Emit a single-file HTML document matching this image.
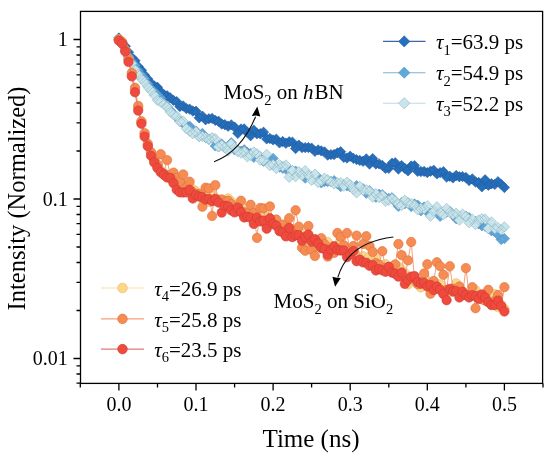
<!DOCTYPE html>
<html><head><meta charset="utf-8"><style>
html,body{margin:0;padding:0;background:#fff;}
svg{display:block;will-change:transform;}
text{font-family:"Liberation Serif",serif;fill:#000;font-size:20px;}
.lg{font-size:21px;}
.an{font-size:21px;}
.ti{font-size:25px;}
.yt{font-size:24.5px;}
</style></head><body>
<svg width="550" height="457" viewBox="0 0 550 457">
<rect width="550" height="457" fill="#fff"/>
<polyline points="118.9,38.0 122.1,42.1 125.3,46.3 128.5,52.2 131.8,57.5 135.0,60.7 138.2,66.6 141.4,70.3 144.6,75.2 147.8,79.1 151.0,83.4 154.2,85.9 157.4,87.3 160.7,91.8 163.9,94.6 167.1,95.8 170.3,97.9 173.5,100.4 176.7,101.6 179.9,106.5 183.2,106.0 186.4,108.6 189.6,109.1 192.8,111.0 196.0,111.2 199.2,117.8 202.4,116.1 205.6,119.8 208.9,118.8 212.1,118.4 215.3,120.4 218.5,121.3 221.7,124.0 224.9,124.7 228.1,126.2 231.3,124.9 234.6,127.1 237.8,133.3 241.0,129.0 244.2,128.9 247.4,132.6 250.6,135.7 253.8,130.2 257.0,133.7 260.2,133.7 263.5,132.2 266.7,138.9 269.9,138.5 273.1,139.9 276.3,139.2 279.5,142.9 282.7,141.5 285.9,143.2 289.2,141.8 292.4,142.2 295.6,148.5 298.8,145.1 302.0,147.6 305.2,147.6 308.4,147.5 311.6,148.1 314.9,151.3 318.1,149.9 321.3,150.9 324.5,151.9 327.7,155.1 330.9,154.6 334.1,154.5 337.4,152.9 340.6,151.7 343.8,157.4 347.0,158.0 350.2,156.2 353.4,158.4 356.6,159.6 359.8,160.4 363.1,161.3 366.3,158.9 369.5,164.0 372.7,158.6 375.9,164.0 379.1,163.9 382.3,165.4 385.5,168.4 388.8,168.3 392.0,163.2 395.2,162.8 398.4,169.0 401.6,165.6 404.8,168.4 408.0,170.9 411.2,166.0 414.5,165.6 417.7,171.4 420.9,171.5 424.1,171.4 427.3,172.6 430.5,171.2 433.7,170.3 436.9,173.9 440.1,172.6 443.4,171.7 446.6,177.0 449.8,176.3 453.0,177.9 456.2,175.5 459.4,176.8 462.6,176.6 465.9,177.5 469.1,180.5 472.3,178.9 475.5,182.0 478.7,182.5 481.9,186.8 485.1,179.8 488.3,185.3 491.5,183.7 494.8,184.4 498.0,181.7 501.2,184.4 504.4,187.5" fill="none" stroke="#3b67a6" stroke-width="1"/><path d="M118.9 32.8L124.1 38.0L118.9 43.2L113.7 38.0ZM122.1 36.9L127.3 42.1L122.1 47.3L116.9 42.1ZM125.3 41.1L130.5 46.3L125.3 51.5L120.1 46.3ZM128.5 47.0L133.7 52.2L128.5 57.4L123.3 52.2ZM131.8 52.3L136.9 57.5L131.8 62.7L126.5 57.5ZM135.0 55.5L140.2 60.7L135.0 65.9L129.8 60.7ZM138.2 61.4L143.4 66.6L138.2 71.8L133.0 66.6ZM141.4 65.1L146.6 70.3L141.4 75.5L136.2 70.3ZM144.6 70.0L149.8 75.2L144.6 80.4L139.4 75.2ZM147.8 73.9L153.0 79.1L147.8 84.3L142.6 79.1ZM151.0 78.2L156.2 83.4L151.0 88.6L145.8 83.4ZM154.2 80.7L159.4 85.9L154.2 91.1L149.0 85.9ZM157.4 82.1L162.6 87.3L157.4 92.5L152.2 87.3ZM160.7 86.6L165.9 91.8L160.7 97.0L155.5 91.8ZM163.9 89.4L169.1 94.6L163.9 99.8L158.7 94.6ZM167.1 90.6L172.3 95.8L167.1 101.0L161.9 95.8ZM170.3 92.7L175.5 97.9L170.3 103.1L165.1 97.9ZM173.5 95.2L178.7 100.4L173.5 105.6L168.3 100.4ZM176.7 96.4L181.9 101.6L176.7 106.8L171.5 101.6ZM179.9 101.3L185.1 106.5L179.9 111.7L174.7 106.5ZM183.2 100.8L188.3 106.0L183.2 111.2L178.0 106.0ZM186.4 103.4L191.6 108.6L186.4 113.8L181.2 108.6ZM189.6 103.9L194.8 109.1L189.6 114.3L184.4 109.1ZM192.8 105.8L198.0 111.0L192.8 116.2L187.6 111.0ZM196.0 106.0L201.2 111.2L196.0 116.4L190.8 111.2ZM199.2 112.6L204.4 117.8L199.2 123.0L194.0 117.8ZM202.4 110.9L207.6 116.1L202.4 121.3L197.2 116.1ZM205.6 114.6L210.8 119.8L205.6 125.0L200.4 119.8ZM208.9 113.6L214.1 118.8L208.9 124.0L203.7 118.8ZM212.1 113.2L217.3 118.4L212.1 123.6L206.9 118.4ZM215.3 115.2L220.5 120.4L215.3 125.6L210.1 120.4ZM218.5 116.1L223.7 121.3L218.5 126.5L213.3 121.3ZM221.7 118.8L226.9 124.0L221.7 129.2L216.5 124.0ZM224.9 119.5L230.1 124.7L224.9 129.9L219.7 124.7ZM228.1 121.0L233.3 126.2L228.1 131.4L222.9 126.2ZM231.3 119.7L236.5 124.9L231.3 130.1L226.1 124.9ZM234.6 121.9L239.8 127.1L234.6 132.3L229.4 127.1ZM237.8 128.1L243.0 133.3L237.8 138.5L232.6 133.3ZM241.0 123.8L246.2 129.0L241.0 134.2L235.8 129.0ZM244.2 123.7L249.4 128.9L244.2 134.1L239.0 128.9ZM247.4 127.4L252.6 132.6L247.4 137.8L242.2 132.6ZM250.6 130.5L255.8 135.7L250.6 140.9L245.4 135.7ZM253.8 125.0L259.0 130.2L253.8 135.4L248.6 130.2ZM257.0 128.5L262.2 133.7L257.0 138.9L251.8 133.7ZM260.2 128.5L265.4 133.7L260.2 138.9L255.1 133.7ZM263.5 127.0L268.7 132.2L263.5 137.4L258.3 132.2ZM266.7 133.7L271.9 138.9L266.7 144.1L261.5 138.9ZM269.9 133.3L275.1 138.5L269.9 143.7L264.7 138.5ZM273.1 134.7L278.3 139.9L273.1 145.1L267.9 139.9ZM276.3 134.0L281.5 139.2L276.3 144.4L271.1 139.2ZM279.5 137.7L284.7 142.9L279.5 148.1L274.3 142.9ZM282.7 136.3L287.9 141.5L282.7 146.7L277.5 141.5ZM285.9 138.0L291.1 143.2L285.9 148.4L280.8 143.2ZM289.2 136.6L294.4 141.8L289.2 147.0L284.0 141.8ZM292.4 137.0L297.6 142.2L292.4 147.4L287.2 142.2ZM295.6 143.3L300.8 148.5L295.6 153.7L290.4 148.5ZM298.8 139.9L304.0 145.1L298.8 150.3L293.6 145.1ZM302.0 142.4L307.2 147.6L302.0 152.8L296.8 147.6ZM305.2 142.4L310.4 147.6L305.2 152.8L300.0 147.6ZM308.4 142.3L313.6 147.5L308.4 152.7L303.2 147.5ZM311.6 142.9L316.8 148.1L311.6 153.3L306.4 148.1ZM314.9 146.1L320.1 151.3L314.9 156.5L309.7 151.3ZM318.1 144.7L323.3 149.9L318.1 155.1L312.9 149.9ZM321.3 145.7L326.5 150.9L321.3 156.1L316.1 150.9ZM324.5 146.7L329.7 151.9L324.5 157.1L319.3 151.9ZM327.7 149.9L332.9 155.1L327.7 160.3L322.5 155.1ZM330.9 149.4L336.1 154.6L330.9 159.8L325.7 154.6ZM334.1 149.3L339.3 154.5L334.1 159.7L328.9 154.5ZM337.4 147.7L342.6 152.9L337.4 158.1L332.2 152.9ZM340.6 146.5L345.8 151.7L340.6 156.9L335.4 151.7ZM343.8 152.2L349.0 157.4L343.8 162.6L338.6 157.4ZM347.0 152.8L352.2 158.0L347.0 163.2L341.8 158.0ZM350.2 151.0L355.4 156.2L350.2 161.4L345.0 156.2ZM353.4 153.2L358.6 158.4L353.4 163.6L348.2 158.4ZM356.6 154.4L361.8 159.6L356.6 164.8L351.4 159.6ZM359.8 155.2L365.0 160.4L359.8 165.6L354.6 160.4ZM363.1 156.1L368.2 161.3L363.1 166.5L357.9 161.3ZM366.3 153.7L371.5 158.9L366.3 164.1L361.1 158.9ZM369.5 158.8L374.7 164.0L369.5 169.2L364.3 164.0ZM372.7 153.4L377.9 158.6L372.7 163.8L367.5 158.6ZM375.9 158.8L381.1 164.0L375.9 169.2L370.7 164.0ZM379.1 158.7L384.3 163.9L379.1 169.1L373.9 163.9ZM382.3 160.2L387.5 165.4L382.3 170.6L377.1 165.4ZM385.5 163.2L390.7 168.4L385.5 173.6L380.3 168.4ZM388.8 163.1L393.9 168.3L388.8 173.5L383.6 168.3ZM392.0 158.0L397.2 163.2L392.0 168.4L386.8 163.2ZM395.2 157.6L400.4 162.8L395.2 168.0L390.0 162.8ZM398.4 163.8L403.6 169.0L398.4 174.2L393.2 169.0ZM401.6 160.4L406.8 165.6L401.6 170.8L396.4 165.6ZM404.8 163.2L410.0 168.4L404.8 173.6L399.6 168.4ZM408.0 165.7L413.2 170.9L408.0 176.1L402.8 170.9ZM411.2 160.8L416.4 166.0L411.2 171.2L406.0 166.0ZM414.5 160.4L419.7 165.6L414.5 170.8L409.3 165.6ZM417.7 166.2L422.9 171.4L417.7 176.6L412.5 171.4ZM420.9 166.3L426.1 171.5L420.9 176.7L415.7 171.5ZM424.1 166.2L429.3 171.4L424.1 176.6L418.9 171.4ZM427.3 167.4L432.5 172.6L427.3 177.8L422.1 172.6ZM430.5 166.0L435.7 171.2L430.5 176.4L425.3 171.2ZM433.7 165.1L438.9 170.3L433.7 175.5L428.5 170.3ZM436.9 168.7L442.1 173.9L436.9 179.1L431.7 173.9ZM440.1 167.4L445.3 172.6L440.1 177.8L434.9 172.6ZM443.4 166.5L448.6 171.7L443.4 176.9L438.2 171.7ZM446.6 171.8L451.8 177.0L446.6 182.2L441.4 177.0ZM449.8 171.1L455.0 176.3L449.8 181.5L444.6 176.3ZM453.0 172.7L458.2 177.9L453.0 183.1L447.8 177.9ZM456.2 170.3L461.4 175.5L456.2 180.7L451.0 175.5ZM459.4 171.6L464.6 176.8L459.4 182.0L454.2 176.8ZM462.6 171.4L467.8 176.6L462.6 181.8L457.4 176.6ZM465.9 172.3L471.1 177.5L465.9 182.7L460.7 177.5ZM469.1 175.3L474.3 180.5L469.1 185.7L463.9 180.5ZM472.3 173.7L477.5 178.9L472.3 184.1L467.1 178.9ZM475.5 176.8L480.7 182.0L475.5 187.2L470.3 182.0ZM478.7 177.3L483.9 182.5L478.7 187.7L473.5 182.5ZM481.9 181.6L487.1 186.8L481.9 192.0L476.7 186.8ZM485.1 174.6L490.3 179.8L485.1 185.0L479.9 179.8ZM488.3 180.1L493.5 185.3L488.3 190.5L483.1 185.3ZM491.5 178.5L496.7 183.7L491.5 188.9L486.3 183.7ZM494.8 179.2L500.0 184.4L494.8 189.6L489.6 184.4ZM498.0 176.5L503.2 181.7L498.0 186.9L492.8 181.7ZM501.2 179.2L506.4 184.4L501.2 189.6L496.0 184.4ZM504.4 182.3L509.6 187.5L504.4 192.7L499.2 187.5Z" fill="#2270bf" stroke="#2a5c9c" stroke-width="0.6"/><polyline points="118.9,39.4 122.1,44.0 125.3,49.6 128.5,56.3 131.8,61.4 135.0,65.5 138.2,70.8 141.4,75.0 144.6,78.8 147.8,83.9 151.0,88.7 154.2,91.8 157.4,94.6 160.7,98.3 163.9,103.7 167.1,106.6 170.3,110.3 173.5,113.8 176.7,117.4 179.9,121.2 183.2,123.6 186.4,125.7 189.6,126.1 192.8,131.0 196.0,131.0 199.2,136.4 202.4,133.4 205.6,137.5 208.9,139.3 212.1,138.1 215.3,145.9 218.5,146.8 221.7,144.0 224.9,147.8 228.1,148.1 231.3,142.8 234.6,149.8 237.8,150.1 241.0,151.3 244.2,149.8 247.4,152.4 250.6,153.5 253.8,157.3 257.0,156.4 260.2,156.8 263.5,161.2 266.7,158.2 269.9,159.9 273.1,158.4 276.3,166.9 279.5,167.0 282.7,168.3 285.9,169.1 289.2,169.3 292.4,170.8 295.6,171.1 298.8,172.4 302.0,174.0 305.2,178.1 308.4,177.1 311.6,176.7 314.9,176.5 318.1,177.3 321.3,182.9 324.5,181.5 327.7,181.5 330.9,181.5 334.1,180.7 337.4,183.7 340.6,186.6 343.8,184.7 347.0,185.9 350.2,186.8 353.4,188.3 356.6,185.6 359.8,189.2 363.1,188.7 366.3,193.2 369.5,190.6 372.7,194.3 375.9,197.2 379.1,194.3 382.3,194.7 385.5,197.6 388.8,198.5 392.0,197.7 395.2,202.0 398.4,206.4 401.6,202.6 404.8,203.7 408.0,202.8 411.2,206.5 414.5,204.0 417.7,205.1 420.9,210.8 424.1,207.0 427.3,211.9 430.5,213.5 433.7,211.5 436.9,212.8 440.1,216.3 443.4,212.4 446.6,212.2 449.8,211.3 453.0,215.0 456.2,218.7 459.4,218.4 462.6,215.2 465.9,216.2 469.1,217.7 472.3,220.8 475.5,221.4 478.7,223.9 481.9,225.7 485.1,226.2 488.3,228.4 491.5,230.7 494.8,231.8 498.0,234.8 501.2,239.5 504.4,238.6" fill="none" stroke="#7fb0d6" stroke-width="1"/><path d="M118.9 34.2L124.1 39.4L118.9 44.6L113.7 39.4ZM122.1 38.8L127.3 44.0L122.1 49.2L116.9 44.0ZM125.3 44.4L130.5 49.6L125.3 54.8L120.1 49.6ZM128.5 51.1L133.7 56.3L128.5 61.5L123.3 56.3ZM131.8 56.2L136.9 61.4L131.8 66.6L126.5 61.4ZM135.0 60.3L140.2 65.5L135.0 70.7L129.8 65.5ZM138.2 65.6L143.4 70.8L138.2 76.0L133.0 70.8ZM141.4 69.8L146.6 75.0L141.4 80.2L136.2 75.0ZM144.6 73.6L149.8 78.8L144.6 84.0L139.4 78.8ZM147.8 78.7L153.0 83.9L147.8 89.1L142.6 83.9ZM151.0 83.5L156.2 88.7L151.0 93.9L145.8 88.7ZM154.2 86.6L159.4 91.8L154.2 97.0L149.0 91.8ZM157.4 89.4L162.6 94.6L157.4 99.8L152.2 94.6ZM160.7 93.1L165.9 98.3L160.7 103.5L155.5 98.3ZM163.9 98.5L169.1 103.7L163.9 108.9L158.7 103.7ZM167.1 101.4L172.3 106.6L167.1 111.8L161.9 106.6ZM170.3 105.1L175.5 110.3L170.3 115.5L165.1 110.3ZM173.5 108.6L178.7 113.8L173.5 119.0L168.3 113.8ZM176.7 112.2L181.9 117.4L176.7 122.6L171.5 117.4ZM179.9 116.0L185.1 121.2L179.9 126.4L174.7 121.2ZM183.2 118.4L188.3 123.6L183.2 128.8L178.0 123.6ZM186.4 120.5L191.6 125.7L186.4 130.9L181.2 125.7ZM189.6 120.9L194.8 126.1L189.6 131.3L184.4 126.1ZM192.8 125.8L198.0 131.0L192.8 136.2L187.6 131.0ZM196.0 125.8L201.2 131.0L196.0 136.2L190.8 131.0ZM199.2 131.2L204.4 136.4L199.2 141.6L194.0 136.4ZM202.4 128.2L207.6 133.4L202.4 138.6L197.2 133.4ZM205.6 132.3L210.8 137.5L205.6 142.7L200.4 137.5ZM208.9 134.1L214.1 139.3L208.9 144.5L203.7 139.3ZM212.1 132.9L217.3 138.1L212.1 143.3L206.9 138.1ZM215.3 140.7L220.5 145.9L215.3 151.1L210.1 145.9ZM218.5 141.6L223.7 146.8L218.5 152.0L213.3 146.8ZM221.7 138.8L226.9 144.0L221.7 149.2L216.5 144.0ZM224.9 142.6L230.1 147.8L224.9 153.0L219.7 147.8ZM228.1 142.9L233.3 148.1L228.1 153.3L222.9 148.1ZM231.3 137.6L236.5 142.8L231.3 148.0L226.1 142.8ZM234.6 144.6L239.8 149.8L234.6 155.0L229.4 149.8ZM237.8 144.9L243.0 150.1L237.8 155.3L232.6 150.1ZM241.0 146.1L246.2 151.3L241.0 156.5L235.8 151.3ZM244.2 144.6L249.4 149.8L244.2 155.0L239.0 149.8ZM247.4 147.2L252.6 152.4L247.4 157.6L242.2 152.4ZM250.6 148.3L255.8 153.5L250.6 158.7L245.4 153.5ZM253.8 152.1L259.0 157.3L253.8 162.5L248.6 157.3ZM257.0 151.2L262.2 156.4L257.0 161.6L251.8 156.4ZM260.2 151.6L265.4 156.8L260.2 162.0L255.1 156.8ZM263.5 156.0L268.7 161.2L263.5 166.4L258.3 161.2ZM266.7 153.0L271.9 158.2L266.7 163.4L261.5 158.2ZM269.9 154.7L275.1 159.9L269.9 165.1L264.7 159.9ZM273.1 153.2L278.3 158.4L273.1 163.6L267.9 158.4ZM276.3 161.7L281.5 166.9L276.3 172.1L271.1 166.9ZM279.5 161.8L284.7 167.0L279.5 172.2L274.3 167.0ZM282.7 163.1L287.9 168.3L282.7 173.5L277.5 168.3ZM285.9 163.9L291.1 169.1L285.9 174.3L280.8 169.1ZM289.2 164.1L294.4 169.3L289.2 174.5L284.0 169.3ZM292.4 165.6L297.6 170.8L292.4 176.0L287.2 170.8ZM295.6 165.9L300.8 171.1L295.6 176.3L290.4 171.1ZM298.8 167.2L304.0 172.4L298.8 177.6L293.6 172.4ZM302.0 168.8L307.2 174.0L302.0 179.2L296.8 174.0ZM305.2 172.9L310.4 178.1L305.2 183.3L300.0 178.1ZM308.4 171.9L313.6 177.1L308.4 182.3L303.2 177.1ZM311.6 171.5L316.8 176.7L311.6 181.9L306.4 176.7ZM314.9 171.3L320.1 176.5L314.9 181.7L309.7 176.5ZM318.1 172.1L323.3 177.3L318.1 182.5L312.9 177.3ZM321.3 177.7L326.5 182.9L321.3 188.1L316.1 182.9ZM324.5 176.3L329.7 181.5L324.5 186.7L319.3 181.5ZM327.7 176.3L332.9 181.5L327.7 186.7L322.5 181.5ZM330.9 176.3L336.1 181.5L330.9 186.7L325.7 181.5ZM334.1 175.5L339.3 180.7L334.1 185.9L328.9 180.7ZM337.4 178.5L342.6 183.7L337.4 188.9L332.2 183.7ZM340.6 181.4L345.8 186.6L340.6 191.8L335.4 186.6ZM343.8 179.5L349.0 184.7L343.8 189.9L338.6 184.7ZM347.0 180.7L352.2 185.9L347.0 191.1L341.8 185.9ZM350.2 181.6L355.4 186.8L350.2 192.0L345.0 186.8ZM353.4 183.1L358.6 188.3L353.4 193.5L348.2 188.3ZM356.6 180.4L361.8 185.6L356.6 190.8L351.4 185.6ZM359.8 184.0L365.0 189.2L359.8 194.4L354.6 189.2ZM363.1 183.5L368.2 188.7L363.1 193.9L357.9 188.7ZM366.3 188.0L371.5 193.2L366.3 198.4L361.1 193.2ZM369.5 185.4L374.7 190.6L369.5 195.8L364.3 190.6ZM372.7 189.1L377.9 194.3L372.7 199.5L367.5 194.3ZM375.9 192.0L381.1 197.2L375.9 202.4L370.7 197.2ZM379.1 189.1L384.3 194.3L379.1 199.5L373.9 194.3ZM382.3 189.5L387.5 194.7L382.3 199.9L377.1 194.7ZM385.5 192.4L390.7 197.6L385.5 202.8L380.3 197.6ZM388.8 193.3L393.9 198.5L388.8 203.7L383.6 198.5ZM392.0 192.5L397.2 197.7L392.0 202.9L386.8 197.7ZM395.2 196.8L400.4 202.0L395.2 207.2L390.0 202.0ZM398.4 201.2L403.6 206.4L398.4 211.6L393.2 206.4ZM401.6 197.4L406.8 202.6L401.6 207.8L396.4 202.6ZM404.8 198.5L410.0 203.7L404.8 208.9L399.6 203.7ZM408.0 197.6L413.2 202.8L408.0 208.0L402.8 202.8ZM411.2 201.3L416.4 206.5L411.2 211.7L406.0 206.5ZM414.5 198.8L419.7 204.0L414.5 209.2L409.3 204.0ZM417.7 199.9L422.9 205.1L417.7 210.3L412.5 205.1ZM420.9 205.6L426.1 210.8L420.9 216.0L415.7 210.8ZM424.1 201.8L429.3 207.0L424.1 212.2L418.9 207.0ZM427.3 206.7L432.5 211.9L427.3 217.1L422.1 211.9ZM430.5 208.3L435.7 213.5L430.5 218.7L425.3 213.5ZM433.7 206.3L438.9 211.5L433.7 216.7L428.5 211.5ZM436.9 207.6L442.1 212.8L436.9 218.0L431.7 212.8ZM440.1 211.1L445.3 216.3L440.1 221.5L434.9 216.3ZM443.4 207.2L448.6 212.4L443.4 217.6L438.2 212.4ZM446.6 207.0L451.8 212.2L446.6 217.4L441.4 212.2ZM449.8 206.1L455.0 211.3L449.8 216.5L444.6 211.3ZM453.0 209.8L458.2 215.0L453.0 220.2L447.8 215.0ZM456.2 213.5L461.4 218.7L456.2 223.9L451.0 218.7ZM459.4 213.2L464.6 218.4L459.4 223.6L454.2 218.4ZM462.6 210.0L467.8 215.2L462.6 220.4L457.4 215.2ZM465.9 211.0L471.1 216.2L465.9 221.4L460.7 216.2ZM469.1 212.5L474.3 217.7L469.1 222.9L463.9 217.7ZM472.3 215.6L477.5 220.8L472.3 226.0L467.1 220.8ZM475.5 216.2L480.7 221.4L475.5 226.6L470.3 221.4ZM478.7 218.7L483.9 223.9L478.7 229.1L473.5 223.9ZM481.9 220.5L487.1 225.7L481.9 230.9L476.7 225.7ZM485.1 221.0L490.3 226.2L485.1 231.4L479.9 226.2ZM488.3 223.2L493.5 228.4L488.3 233.6L483.1 228.4ZM491.5 225.5L496.7 230.7L491.5 235.9L486.3 230.7ZM494.8 226.6L500.0 231.8L494.8 237.0L489.6 231.8ZM498.0 229.6L503.2 234.8L498.0 240.0L492.8 234.8ZM501.2 234.3L506.4 239.5L501.2 244.7L496.0 239.5ZM504.4 233.4L509.6 238.6L504.4 243.8L499.2 238.6Z" fill="#5ea8dc" stroke="#5b8fbf" stroke-width="0.6"/><polyline points="118.9,40.2 122.1,44.4 125.3,51.7 128.5,57.4 131.8,63.4 135.0,69.7 138.2,74.5 141.4,78.7 144.6,82.4 147.8,87.0 151.0,90.6 154.2,95.2 157.4,100.3 160.7,102.0 163.9,104.3 167.1,107.1 170.3,111.9 173.5,114.8 176.7,116.1 179.9,121.2 183.2,121.2 186.4,128.7 189.6,131.2 192.8,133.7 196.0,131.8 199.2,136.5 202.4,136.5 205.6,137.4 208.9,139.1 212.1,137.8 215.3,138.8 218.5,146.9 221.7,145.2 224.9,147.6 228.1,151.1 231.3,143.9 234.6,147.7 237.8,151.5 241.0,153.1 244.2,151.7 247.4,156.8 250.6,155.3 253.8,152.0 257.0,153.8 260.2,160.0 263.5,160.2 266.7,154.4 269.9,165.6 273.1,164.8 276.3,168.5 279.5,164.7 282.7,166.3 285.9,165.0 289.2,177.3 292.4,170.5 295.6,176.6 298.8,171.7 302.0,175.2 305.2,170.6 308.4,175.3 311.6,180.4 314.9,174.2 318.1,182.5 321.3,181.0 324.5,178.2 327.7,179.6 330.9,181.8 334.1,183.8 337.4,182.9 340.6,182.6 343.8,186.1 347.0,182.1 350.2,184.8 353.4,189.1 356.6,192.8 359.8,186.5 363.1,190.4 366.3,189.8 369.5,191.1 372.7,197.1 375.9,193.6 379.1,197.5 382.3,195.4 385.5,201.2 388.8,200.4 392.0,198.7 395.2,200.8 398.4,204.2 401.6,205.5 404.8,200.2 408.0,203.2 411.2,203.6 414.5,205.3 417.7,209.9 420.9,208.5 424.1,208.9 427.3,205.7 430.5,216.2 433.7,211.4 436.9,206.8 440.1,212.4 443.4,214.7 446.6,208.5 449.8,212.5 453.0,214.2 456.2,213.2 459.4,220.1 462.6,214.2 465.9,216.5 469.1,222.7 472.3,219.2 475.5,224.5 478.7,219.9 481.9,218.8 485.1,219.1 488.3,228.6 491.5,221.9 494.8,228.6 498.0,227.6 501.2,229.8 504.4,226.9" fill="none" stroke="#bcdbe3" stroke-width="1"/><path d="M118.9 35.0L124.1 40.2L118.9 45.4L113.7 40.2ZM122.1 39.2L127.3 44.4L122.1 49.6L116.9 44.4ZM125.3 46.5L130.5 51.7L125.3 56.9L120.1 51.7ZM128.5 52.2L133.7 57.4L128.5 62.6L123.3 57.4ZM131.8 58.2L136.9 63.4L131.8 68.6L126.5 63.4ZM135.0 64.5L140.2 69.7L135.0 74.9L129.8 69.7ZM138.2 69.3L143.4 74.5L138.2 79.7L133.0 74.5ZM141.4 73.5L146.6 78.7L141.4 83.9L136.2 78.7ZM144.6 77.2L149.8 82.4L144.6 87.6L139.4 82.4ZM147.8 81.8L153.0 87.0L147.8 92.2L142.6 87.0ZM151.0 85.4L156.2 90.6L151.0 95.8L145.8 90.6ZM154.2 90.0L159.4 95.2L154.2 100.4L149.0 95.2ZM157.4 95.1L162.6 100.3L157.4 105.5L152.2 100.3ZM160.7 96.8L165.9 102.0L160.7 107.2L155.5 102.0ZM163.9 99.1L169.1 104.3L163.9 109.5L158.7 104.3ZM167.1 101.9L172.3 107.1L167.1 112.3L161.9 107.1ZM170.3 106.7L175.5 111.9L170.3 117.1L165.1 111.9ZM173.5 109.6L178.7 114.8L173.5 120.0L168.3 114.8ZM176.7 110.9L181.9 116.1L176.7 121.3L171.5 116.1ZM179.9 116.0L185.1 121.2L179.9 126.4L174.7 121.2ZM183.2 116.0L188.3 121.2L183.2 126.4L178.0 121.2ZM186.4 123.5L191.6 128.7L186.4 133.9L181.2 128.7ZM189.6 126.0L194.8 131.2L189.6 136.4L184.4 131.2ZM192.8 128.5L198.0 133.7L192.8 138.9L187.6 133.7ZM196.0 126.6L201.2 131.8L196.0 137.0L190.8 131.8ZM199.2 131.3L204.4 136.5L199.2 141.7L194.0 136.5ZM202.4 131.3L207.6 136.5L202.4 141.7L197.2 136.5ZM205.6 132.2L210.8 137.4L205.6 142.6L200.4 137.4ZM208.9 133.9L214.1 139.1L208.9 144.3L203.7 139.1ZM212.1 132.6L217.3 137.8L212.1 143.0L206.9 137.8ZM215.3 133.6L220.5 138.8L215.3 144.0L210.1 138.8ZM218.5 141.7L223.7 146.9L218.5 152.1L213.3 146.9ZM221.7 140.0L226.9 145.2L221.7 150.4L216.5 145.2ZM224.9 142.4L230.1 147.6L224.9 152.8L219.7 147.6ZM228.1 145.9L233.3 151.1L228.1 156.3L222.9 151.1ZM231.3 138.7L236.5 143.9L231.3 149.1L226.1 143.9ZM234.6 142.5L239.8 147.7L234.6 152.9L229.4 147.7ZM237.8 146.3L243.0 151.5L237.8 156.7L232.6 151.5ZM241.0 147.9L246.2 153.1L241.0 158.3L235.8 153.1ZM244.2 146.5L249.4 151.7L244.2 156.9L239.0 151.7ZM247.4 151.6L252.6 156.8L247.4 162.0L242.2 156.8ZM250.6 150.1L255.8 155.3L250.6 160.5L245.4 155.3ZM253.8 146.8L259.0 152.0L253.8 157.2L248.6 152.0ZM257.0 148.6L262.2 153.8L257.0 159.0L251.8 153.8ZM260.2 154.8L265.4 160.0L260.2 165.2L255.1 160.0ZM263.5 155.0L268.7 160.2L263.5 165.4L258.3 160.2ZM266.7 149.2L271.9 154.4L266.7 159.6L261.5 154.4ZM269.9 160.4L275.1 165.6L269.9 170.8L264.7 165.6ZM273.1 159.6L278.3 164.8L273.1 170.0L267.9 164.8ZM276.3 163.3L281.5 168.5L276.3 173.7L271.1 168.5ZM279.5 159.5L284.7 164.7L279.5 169.9L274.3 164.7ZM282.7 161.1L287.9 166.3L282.7 171.5L277.5 166.3ZM285.9 159.8L291.1 165.0L285.9 170.2L280.8 165.0ZM289.2 172.1L294.4 177.3L289.2 182.5L284.0 177.3ZM292.4 165.3L297.6 170.5L292.4 175.7L287.2 170.5ZM295.6 171.4L300.8 176.6L295.6 181.8L290.4 176.6ZM298.8 166.5L304.0 171.7L298.8 176.9L293.6 171.7ZM302.0 170.0L307.2 175.2L302.0 180.4L296.8 175.2ZM305.2 165.4L310.4 170.6L305.2 175.8L300.0 170.6ZM308.4 170.1L313.6 175.3L308.4 180.5L303.2 175.3ZM311.6 175.2L316.8 180.4L311.6 185.6L306.4 180.4ZM314.9 169.0L320.1 174.2L314.9 179.4L309.7 174.2ZM318.1 177.3L323.3 182.5L318.1 187.7L312.9 182.5ZM321.3 175.8L326.5 181.0L321.3 186.2L316.1 181.0ZM324.5 173.0L329.7 178.2L324.5 183.4L319.3 178.2ZM327.7 174.4L332.9 179.6L327.7 184.8L322.5 179.6ZM330.9 176.6L336.1 181.8L330.9 187.0L325.7 181.8ZM334.1 178.6L339.3 183.8L334.1 189.0L328.9 183.8ZM337.4 177.7L342.6 182.9L337.4 188.1L332.2 182.9ZM340.6 177.4L345.8 182.6L340.6 187.8L335.4 182.6ZM343.8 180.9L349.0 186.1L343.8 191.3L338.6 186.1ZM347.0 176.9L352.2 182.1L347.0 187.3L341.8 182.1ZM350.2 179.6L355.4 184.8L350.2 190.0L345.0 184.8ZM353.4 183.9L358.6 189.1L353.4 194.3L348.2 189.1ZM356.6 187.6L361.8 192.8L356.6 198.0L351.4 192.8ZM359.8 181.3L365.0 186.5L359.8 191.7L354.6 186.5ZM363.1 185.2L368.2 190.4L363.1 195.6L357.9 190.4ZM366.3 184.6L371.5 189.8L366.3 195.0L361.1 189.8ZM369.5 185.9L374.7 191.1L369.5 196.3L364.3 191.1ZM372.7 191.9L377.9 197.1L372.7 202.3L367.5 197.1ZM375.9 188.4L381.1 193.6L375.9 198.8L370.7 193.6ZM379.1 192.3L384.3 197.5L379.1 202.7L373.9 197.5ZM382.3 190.2L387.5 195.4L382.3 200.6L377.1 195.4ZM385.5 196.0L390.7 201.2L385.5 206.4L380.3 201.2ZM388.8 195.2L393.9 200.4L388.8 205.6L383.6 200.4ZM392.0 193.5L397.2 198.7L392.0 203.9L386.8 198.7ZM395.2 195.6L400.4 200.8L395.2 206.0L390.0 200.8ZM398.4 199.0L403.6 204.2L398.4 209.4L393.2 204.2ZM401.6 200.3L406.8 205.5L401.6 210.7L396.4 205.5ZM404.8 195.0L410.0 200.2L404.8 205.4L399.6 200.2ZM408.0 198.0L413.2 203.2L408.0 208.4L402.8 203.2ZM411.2 198.4L416.4 203.6L411.2 208.8L406.0 203.6ZM414.5 200.1L419.7 205.3L414.5 210.5L409.3 205.3ZM417.7 204.7L422.9 209.9L417.7 215.1L412.5 209.9ZM420.9 203.3L426.1 208.5L420.9 213.7L415.7 208.5ZM424.1 203.7L429.3 208.9L424.1 214.1L418.9 208.9ZM427.3 200.5L432.5 205.7L427.3 210.9L422.1 205.7ZM430.5 211.0L435.7 216.2L430.5 221.4L425.3 216.2ZM433.7 206.2L438.9 211.4L433.7 216.6L428.5 211.4ZM436.9 201.6L442.1 206.8L436.9 212.0L431.7 206.8ZM440.1 207.2L445.3 212.4L440.1 217.6L434.9 212.4ZM443.4 209.5L448.6 214.7L443.4 219.9L438.2 214.7ZM446.6 203.3L451.8 208.5L446.6 213.7L441.4 208.5ZM449.8 207.3L455.0 212.5L449.8 217.7L444.6 212.5ZM453.0 209.0L458.2 214.2L453.0 219.4L447.8 214.2ZM456.2 208.0L461.4 213.2L456.2 218.4L451.0 213.2ZM459.4 214.9L464.6 220.1L459.4 225.3L454.2 220.1ZM462.6 209.0L467.8 214.2L462.6 219.4L457.4 214.2ZM465.9 211.3L471.1 216.5L465.9 221.7L460.7 216.5ZM469.1 217.5L474.3 222.7L469.1 227.9L463.9 222.7ZM472.3 214.0L477.5 219.2L472.3 224.4L467.1 219.2ZM475.5 219.3L480.7 224.5L475.5 229.7L470.3 224.5ZM478.7 214.7L483.9 219.9L478.7 225.1L473.5 219.9ZM481.9 213.6L487.1 218.8L481.9 224.0L476.7 218.8ZM485.1 213.9L490.3 219.1L485.1 224.3L479.9 219.1ZM488.3 223.4L493.5 228.6L488.3 233.8L483.1 228.6ZM491.5 216.7L496.7 221.9L491.5 227.1L486.3 221.9ZM494.8 223.4L500.0 228.6L494.8 233.8L489.6 228.6ZM498.0 222.4L503.2 227.6L498.0 232.8L492.8 227.6ZM501.2 224.6L506.4 229.8L501.2 235.0L496.0 229.8ZM504.4 221.7L509.6 226.9L504.4 232.1L499.2 226.9Z" fill="#c9e5ec" stroke="#8fb7c4" stroke-width="0.6"/><polyline points="118.9,39.3 122.1,42.2 125.3,50.4 128.5,59.1 131.8,74.1 135.0,89.8 138.2,107.7 141.4,122.2 144.6,134.2 147.8,145.4 151.0,152.1 154.2,160.4 157.4,166.5 160.7,170.9 163.9,174.8 167.1,177.2 170.3,178.7 173.5,180.9 176.7,183.9 179.9,183.0 183.2,185.2 186.4,188.8 189.6,193.3 192.8,189.3 196.0,191.3 199.2,193.7 202.4,198.9 205.6,195.5 208.9,201.8 212.1,194.6 215.3,198.3 218.5,199.4 221.7,203.8 224.9,205.9 228.1,198.4 231.3,201.7 234.6,207.3 237.8,205.4 241.0,204.0 244.2,214.2 247.4,213.8 250.6,215.2 253.8,213.2 257.0,219.6 260.2,216.6 263.5,222.4 266.7,216.8 269.9,218.3 273.1,223.1 276.3,221.3 279.5,227.3 282.7,227.3 285.9,224.7 289.2,229.6 292.4,229.6 295.6,235.4 298.8,231.6 302.0,233.6 305.2,240.6 308.4,245.4 311.6,245.9 314.9,240.6 318.1,242.5 321.3,248.2 324.5,243.8 327.7,242.1 330.9,247.0 334.1,249.3 337.4,246.0 340.6,244.3 343.8,246.0 347.0,254.2 350.2,250.4 353.4,253.5 356.6,255.8 359.8,258.3 363.1,256.3 366.3,260.3 369.5,256.9 372.7,260.0 375.9,259.1 379.1,267.7 382.3,265.1 385.5,264.1 388.8,266.8 392.0,268.7 395.2,273.2 398.4,266.7 401.6,269.9 404.8,273.3 408.0,284.4 411.2,280.2 414.5,277.8 417.7,281.7 420.9,287.4 424.1,280.7 427.3,281.2 430.5,287.6 433.7,286.1 436.9,287.6 440.1,284.4 443.4,293.5 446.6,293.6 449.8,290.6 453.0,291.8 456.2,283.4 459.4,293.3 462.6,291.4 465.9,294.5 469.1,296.3 472.3,293.7 475.5,290.1 478.7,298.1 481.9,295.3 485.1,297.7 488.3,297.8 491.5,299.7 494.8,294.1 498.0,307.1 501.2,304.9 504.4,308.9" fill="none" stroke="#fbdfa6" stroke-width="1"/><circle cx="118.9" cy="39.3" r="4.7" fill="#fcd789" stroke="#e6b565" stroke-width="0.6"/><circle cx="122.1" cy="42.2" r="4.7" fill="#fcd789" stroke="#e6b565" stroke-width="0.6"/><circle cx="125.3" cy="50.4" r="4.7" fill="#fcd789" stroke="#e6b565" stroke-width="0.6"/><circle cx="128.5" cy="59.1" r="4.7" fill="#fcd789" stroke="#e6b565" stroke-width="0.6"/><circle cx="131.8" cy="74.1" r="4.7" fill="#fcd789" stroke="#e6b565" stroke-width="0.6"/><circle cx="135.0" cy="89.8" r="4.7" fill="#fcd789" stroke="#e6b565" stroke-width="0.6"/><circle cx="138.2" cy="107.7" r="4.7" fill="#fcd789" stroke="#e6b565" stroke-width="0.6"/><circle cx="141.4" cy="122.2" r="4.7" fill="#fcd789" stroke="#e6b565" stroke-width="0.6"/><circle cx="144.6" cy="134.2" r="4.7" fill="#fcd789" stroke="#e6b565" stroke-width="0.6"/><circle cx="147.8" cy="145.4" r="4.7" fill="#fcd789" stroke="#e6b565" stroke-width="0.6"/><circle cx="151.0" cy="152.1" r="4.7" fill="#fcd789" stroke="#e6b565" stroke-width="0.6"/><circle cx="154.2" cy="160.4" r="4.7" fill="#fcd789" stroke="#e6b565" stroke-width="0.6"/><circle cx="157.4" cy="166.5" r="4.7" fill="#fcd789" stroke="#e6b565" stroke-width="0.6"/><circle cx="160.7" cy="170.9" r="4.7" fill="#fcd789" stroke="#e6b565" stroke-width="0.6"/><circle cx="163.9" cy="174.8" r="4.7" fill="#fcd789" stroke="#e6b565" stroke-width="0.6"/><circle cx="167.1" cy="177.2" r="4.7" fill="#fcd789" stroke="#e6b565" stroke-width="0.6"/><circle cx="170.3" cy="178.7" r="4.7" fill="#fcd789" stroke="#e6b565" stroke-width="0.6"/><circle cx="173.5" cy="180.9" r="4.7" fill="#fcd789" stroke="#e6b565" stroke-width="0.6"/><circle cx="176.7" cy="183.9" r="4.7" fill="#fcd789" stroke="#e6b565" stroke-width="0.6"/><circle cx="179.9" cy="183.0" r="4.7" fill="#fcd789" stroke="#e6b565" stroke-width="0.6"/><circle cx="183.2" cy="185.2" r="4.7" fill="#fcd789" stroke="#e6b565" stroke-width="0.6"/><circle cx="186.4" cy="188.8" r="4.7" fill="#fcd789" stroke="#e6b565" stroke-width="0.6"/><circle cx="189.6" cy="193.3" r="4.7" fill="#fcd789" stroke="#e6b565" stroke-width="0.6"/><circle cx="192.8" cy="189.3" r="4.7" fill="#fcd789" stroke="#e6b565" stroke-width="0.6"/><circle cx="196.0" cy="191.3" r="4.7" fill="#fcd789" stroke="#e6b565" stroke-width="0.6"/><circle cx="199.2" cy="193.7" r="4.7" fill="#fcd789" stroke="#e6b565" stroke-width="0.6"/><circle cx="202.4" cy="198.9" r="4.7" fill="#fcd789" stroke="#e6b565" stroke-width="0.6"/><circle cx="205.6" cy="195.5" r="4.7" fill="#fcd789" stroke="#e6b565" stroke-width="0.6"/><circle cx="208.9" cy="201.8" r="4.7" fill="#fcd789" stroke="#e6b565" stroke-width="0.6"/><circle cx="212.1" cy="194.6" r="4.7" fill="#fcd789" stroke="#e6b565" stroke-width="0.6"/><circle cx="215.3" cy="198.3" r="4.7" fill="#fcd789" stroke="#e6b565" stroke-width="0.6"/><circle cx="218.5" cy="199.4" r="4.7" fill="#fcd789" stroke="#e6b565" stroke-width="0.6"/><circle cx="221.7" cy="203.8" r="4.7" fill="#fcd789" stroke="#e6b565" stroke-width="0.6"/><circle cx="224.9" cy="205.9" r="4.7" fill="#fcd789" stroke="#e6b565" stroke-width="0.6"/><circle cx="228.1" cy="198.4" r="4.7" fill="#fcd789" stroke="#e6b565" stroke-width="0.6"/><circle cx="231.3" cy="201.7" r="4.7" fill="#fcd789" stroke="#e6b565" stroke-width="0.6"/><circle cx="234.6" cy="207.3" r="4.7" fill="#fcd789" stroke="#e6b565" stroke-width="0.6"/><circle cx="237.8" cy="205.4" r="4.7" fill="#fcd789" stroke="#e6b565" stroke-width="0.6"/><circle cx="241.0" cy="204.0" r="4.7" fill="#fcd789" stroke="#e6b565" stroke-width="0.6"/><circle cx="244.2" cy="214.2" r="4.7" fill="#fcd789" stroke="#e6b565" stroke-width="0.6"/><circle cx="247.4" cy="213.8" r="4.7" fill="#fcd789" stroke="#e6b565" stroke-width="0.6"/><circle cx="250.6" cy="215.2" r="4.7" fill="#fcd789" stroke="#e6b565" stroke-width="0.6"/><circle cx="253.8" cy="213.2" r="4.7" fill="#fcd789" stroke="#e6b565" stroke-width="0.6"/><circle cx="257.0" cy="219.6" r="4.7" fill="#fcd789" stroke="#e6b565" stroke-width="0.6"/><circle cx="260.2" cy="216.6" r="4.7" fill="#fcd789" stroke="#e6b565" stroke-width="0.6"/><circle cx="263.5" cy="222.4" r="4.7" fill="#fcd789" stroke="#e6b565" stroke-width="0.6"/><circle cx="266.7" cy="216.8" r="4.7" fill="#fcd789" stroke="#e6b565" stroke-width="0.6"/><circle cx="269.9" cy="218.3" r="4.7" fill="#fcd789" stroke="#e6b565" stroke-width="0.6"/><circle cx="273.1" cy="223.1" r="4.7" fill="#fcd789" stroke="#e6b565" stroke-width="0.6"/><circle cx="276.3" cy="221.3" r="4.7" fill="#fcd789" stroke="#e6b565" stroke-width="0.6"/><circle cx="279.5" cy="227.3" r="4.7" fill="#fcd789" stroke="#e6b565" stroke-width="0.6"/><circle cx="282.7" cy="227.3" r="4.7" fill="#fcd789" stroke="#e6b565" stroke-width="0.6"/><circle cx="285.9" cy="224.7" r="4.7" fill="#fcd789" stroke="#e6b565" stroke-width="0.6"/><circle cx="289.2" cy="229.6" r="4.7" fill="#fcd789" stroke="#e6b565" stroke-width="0.6"/><circle cx="292.4" cy="229.6" r="4.7" fill="#fcd789" stroke="#e6b565" stroke-width="0.6"/><circle cx="295.6" cy="235.4" r="4.7" fill="#fcd789" stroke="#e6b565" stroke-width="0.6"/><circle cx="298.8" cy="231.6" r="4.7" fill="#fcd789" stroke="#e6b565" stroke-width="0.6"/><circle cx="302.0" cy="233.6" r="4.7" fill="#fcd789" stroke="#e6b565" stroke-width="0.6"/><circle cx="305.2" cy="240.6" r="4.7" fill="#fcd789" stroke="#e6b565" stroke-width="0.6"/><circle cx="308.4" cy="245.4" r="4.7" fill="#fcd789" stroke="#e6b565" stroke-width="0.6"/><circle cx="311.6" cy="245.9" r="4.7" fill="#fcd789" stroke="#e6b565" stroke-width="0.6"/><circle cx="314.9" cy="240.6" r="4.7" fill="#fcd789" stroke="#e6b565" stroke-width="0.6"/><circle cx="318.1" cy="242.5" r="4.7" fill="#fcd789" stroke="#e6b565" stroke-width="0.6"/><circle cx="321.3" cy="248.2" r="4.7" fill="#fcd789" stroke="#e6b565" stroke-width="0.6"/><circle cx="324.5" cy="243.8" r="4.7" fill="#fcd789" stroke="#e6b565" stroke-width="0.6"/><circle cx="327.7" cy="242.1" r="4.7" fill="#fcd789" stroke="#e6b565" stroke-width="0.6"/><circle cx="330.9" cy="247.0" r="4.7" fill="#fcd789" stroke="#e6b565" stroke-width="0.6"/><circle cx="334.1" cy="249.3" r="4.7" fill="#fcd789" stroke="#e6b565" stroke-width="0.6"/><circle cx="337.4" cy="246.0" r="4.7" fill="#fcd789" stroke="#e6b565" stroke-width="0.6"/><circle cx="340.6" cy="244.3" r="4.7" fill="#fcd789" stroke="#e6b565" stroke-width="0.6"/><circle cx="343.8" cy="246.0" r="4.7" fill="#fcd789" stroke="#e6b565" stroke-width="0.6"/><circle cx="347.0" cy="254.2" r="4.7" fill="#fcd789" stroke="#e6b565" stroke-width="0.6"/><circle cx="350.2" cy="250.4" r="4.7" fill="#fcd789" stroke="#e6b565" stroke-width="0.6"/><circle cx="353.4" cy="253.5" r="4.7" fill="#fcd789" stroke="#e6b565" stroke-width="0.6"/><circle cx="356.6" cy="255.8" r="4.7" fill="#fcd789" stroke="#e6b565" stroke-width="0.6"/><circle cx="359.8" cy="258.3" r="4.7" fill="#fcd789" stroke="#e6b565" stroke-width="0.6"/><circle cx="363.1" cy="256.3" r="4.7" fill="#fcd789" stroke="#e6b565" stroke-width="0.6"/><circle cx="366.3" cy="260.3" r="4.7" fill="#fcd789" stroke="#e6b565" stroke-width="0.6"/><circle cx="369.5" cy="256.9" r="4.7" fill="#fcd789" stroke="#e6b565" stroke-width="0.6"/><circle cx="372.7" cy="260.0" r="4.7" fill="#fcd789" stroke="#e6b565" stroke-width="0.6"/><circle cx="375.9" cy="259.1" r="4.7" fill="#fcd789" stroke="#e6b565" stroke-width="0.6"/><circle cx="379.1" cy="267.7" r="4.7" fill="#fcd789" stroke="#e6b565" stroke-width="0.6"/><circle cx="382.3" cy="265.1" r="4.7" fill="#fcd789" stroke="#e6b565" stroke-width="0.6"/><circle cx="385.5" cy="264.1" r="4.7" fill="#fcd789" stroke="#e6b565" stroke-width="0.6"/><circle cx="388.8" cy="266.8" r="4.7" fill="#fcd789" stroke="#e6b565" stroke-width="0.6"/><circle cx="392.0" cy="268.7" r="4.7" fill="#fcd789" stroke="#e6b565" stroke-width="0.6"/><circle cx="395.2" cy="273.2" r="4.7" fill="#fcd789" stroke="#e6b565" stroke-width="0.6"/><circle cx="398.4" cy="266.7" r="4.7" fill="#fcd789" stroke="#e6b565" stroke-width="0.6"/><circle cx="401.6" cy="269.9" r="4.7" fill="#fcd789" stroke="#e6b565" stroke-width="0.6"/><circle cx="404.8" cy="273.3" r="4.7" fill="#fcd789" stroke="#e6b565" stroke-width="0.6"/><circle cx="408.0" cy="284.4" r="4.7" fill="#fcd789" stroke="#e6b565" stroke-width="0.6"/><circle cx="411.2" cy="280.2" r="4.7" fill="#fcd789" stroke="#e6b565" stroke-width="0.6"/><circle cx="414.5" cy="277.8" r="4.7" fill="#fcd789" stroke="#e6b565" stroke-width="0.6"/><circle cx="417.7" cy="281.7" r="4.7" fill="#fcd789" stroke="#e6b565" stroke-width="0.6"/><circle cx="420.9" cy="287.4" r="4.7" fill="#fcd789" stroke="#e6b565" stroke-width="0.6"/><circle cx="424.1" cy="280.7" r="4.7" fill="#fcd789" stroke="#e6b565" stroke-width="0.6"/><circle cx="427.3" cy="281.2" r="4.7" fill="#fcd789" stroke="#e6b565" stroke-width="0.6"/><circle cx="430.5" cy="287.6" r="4.7" fill="#fcd789" stroke="#e6b565" stroke-width="0.6"/><circle cx="433.7" cy="286.1" r="4.7" fill="#fcd789" stroke="#e6b565" stroke-width="0.6"/><circle cx="436.9" cy="287.6" r="4.7" fill="#fcd789" stroke="#e6b565" stroke-width="0.6"/><circle cx="440.1" cy="284.4" r="4.7" fill="#fcd789" stroke="#e6b565" stroke-width="0.6"/><circle cx="443.4" cy="293.5" r="4.7" fill="#fcd789" stroke="#e6b565" stroke-width="0.6"/><circle cx="446.6" cy="293.6" r="4.7" fill="#fcd789" stroke="#e6b565" stroke-width="0.6"/><circle cx="449.8" cy="290.6" r="4.7" fill="#fcd789" stroke="#e6b565" stroke-width="0.6"/><circle cx="453.0" cy="291.8" r="4.7" fill="#fcd789" stroke="#e6b565" stroke-width="0.6"/><circle cx="456.2" cy="283.4" r="4.7" fill="#fcd789" stroke="#e6b565" stroke-width="0.6"/><circle cx="459.4" cy="293.3" r="4.7" fill="#fcd789" stroke="#e6b565" stroke-width="0.6"/><circle cx="462.6" cy="291.4" r="4.7" fill="#fcd789" stroke="#e6b565" stroke-width="0.6"/><circle cx="465.9" cy="294.5" r="4.7" fill="#fcd789" stroke="#e6b565" stroke-width="0.6"/><circle cx="469.1" cy="296.3" r="4.7" fill="#fcd789" stroke="#e6b565" stroke-width="0.6"/><circle cx="472.3" cy="293.7" r="4.7" fill="#fcd789" stroke="#e6b565" stroke-width="0.6"/><circle cx="475.5" cy="290.1" r="4.7" fill="#fcd789" stroke="#e6b565" stroke-width="0.6"/><circle cx="478.7" cy="298.1" r="4.7" fill="#fcd789" stroke="#e6b565" stroke-width="0.6"/><circle cx="481.9" cy="295.3" r="4.7" fill="#fcd789" stroke="#e6b565" stroke-width="0.6"/><circle cx="485.1" cy="297.7" r="4.7" fill="#fcd789" stroke="#e6b565" stroke-width="0.6"/><circle cx="488.3" cy="297.8" r="4.7" fill="#fcd789" stroke="#e6b565" stroke-width="0.6"/><circle cx="491.5" cy="299.7" r="4.7" fill="#fcd789" stroke="#e6b565" stroke-width="0.6"/><circle cx="494.8" cy="294.1" r="4.7" fill="#fcd789" stroke="#e6b565" stroke-width="0.6"/><circle cx="498.0" cy="307.1" r="4.7" fill="#fcd789" stroke="#e6b565" stroke-width="0.6"/><circle cx="501.2" cy="304.9" r="4.7" fill="#fcd789" stroke="#e6b565" stroke-width="0.6"/><circle cx="504.4" cy="308.9" r="4.7" fill="#fcd789" stroke="#e6b565" stroke-width="0.6"/><polyline points="118.9,39.5 122.1,42.1 125.3,49.9 128.5,59.2 131.8,72.9 135.0,87.8 138.2,105.9 141.4,121.3 144.6,133.1 147.8,143.8 151.0,152.3 154.2,159.1 157.4,164.6 160.7,154.2 163.9,173.4 167.1,160.1 170.3,174.9 173.5,172.6 176.7,177.9 179.9,181.6 183.2,174.5 186.4,187.6 189.6,181.7 192.8,192.4 196.0,193.8 199.2,194.2 202.4,206.7 205.6,187.7 208.9,188.4 212.1,216.0 215.3,185.1 218.5,200.3 221.7,199.5 224.9,201.6 228.1,200.8 231.3,204.1 234.6,207.9 237.8,207.4 241.0,200.8 244.2,212.1 247.4,212.7 250.6,204.8 253.8,212.9 257.0,237.9 260.2,208.0 263.5,208.4 266.7,224.2 269.9,206.4 273.1,222.2 276.3,219.5 279.5,229.1 282.7,224.6 285.9,229.9 289.2,218.2 292.4,232.0 295.6,210.3 298.8,226.7 302.0,247.7 305.2,250.7 308.4,226.0 311.6,250.0 314.9,256.0 318.1,243.8 321.3,238.2 324.5,244.2 327.7,256.6 330.9,251.0 334.1,252.9 337.4,233.0 340.6,236.9 343.8,245.4 347.0,233.0 350.2,253.3 353.4,246.0 356.6,235.6 359.8,260.0 363.1,244.0 366.3,236.2 369.5,246.0 372.7,251.9 375.9,263.0 379.1,264.7 382.3,251.2 385.5,268.0 388.8,269.2 392.0,267.8 395.2,264.4 398.4,244.0 401.6,255.1 404.8,278.3 408.0,260.4 411.2,242.0 414.5,278.8 417.7,284.1 420.9,282.1 424.1,273.5 427.3,264.3 430.5,293.8 433.7,281.0 436.9,262.3 440.1,266.2 443.4,274.8 446.6,290.0 449.8,266.2 453.0,288.6 456.2,290.1 459.4,286.5 462.6,295.2 465.9,268.1 469.1,295.0 472.3,287.2 475.5,308.2 478.7,295.4 481.9,299.3 485.1,300.6 488.3,289.8 491.5,303.4 494.8,301.0 498.0,295.0 501.2,306.3 504.4,287.2" fill="none" stroke="#f5a17b" stroke-width="1"/><circle cx="118.9" cy="39.5" r="4.7" fill="#f68c51" stroke="#dc7040" stroke-width="0.6"/><circle cx="122.1" cy="42.1" r="4.7" fill="#f68c51" stroke="#dc7040" stroke-width="0.6"/><circle cx="125.3" cy="49.9" r="4.7" fill="#f68c51" stroke="#dc7040" stroke-width="0.6"/><circle cx="128.5" cy="59.2" r="4.7" fill="#f68c51" stroke="#dc7040" stroke-width="0.6"/><circle cx="131.8" cy="72.9" r="4.7" fill="#f68c51" stroke="#dc7040" stroke-width="0.6"/><circle cx="135.0" cy="87.8" r="4.7" fill="#f68c51" stroke="#dc7040" stroke-width="0.6"/><circle cx="138.2" cy="105.9" r="4.7" fill="#f68c51" stroke="#dc7040" stroke-width="0.6"/><circle cx="141.4" cy="121.3" r="4.7" fill="#f68c51" stroke="#dc7040" stroke-width="0.6"/><circle cx="144.6" cy="133.1" r="4.7" fill="#f68c51" stroke="#dc7040" stroke-width="0.6"/><circle cx="147.8" cy="143.8" r="4.7" fill="#f68c51" stroke="#dc7040" stroke-width="0.6"/><circle cx="151.0" cy="152.3" r="4.7" fill="#f68c51" stroke="#dc7040" stroke-width="0.6"/><circle cx="154.2" cy="159.1" r="4.7" fill="#f68c51" stroke="#dc7040" stroke-width="0.6"/><circle cx="157.4" cy="164.6" r="4.7" fill="#f68c51" stroke="#dc7040" stroke-width="0.6"/><circle cx="160.7" cy="154.2" r="4.7" fill="#f68c51" stroke="#dc7040" stroke-width="0.6"/><circle cx="163.9" cy="173.4" r="4.7" fill="#f68c51" stroke="#dc7040" stroke-width="0.6"/><circle cx="167.1" cy="160.1" r="4.7" fill="#f68c51" stroke="#dc7040" stroke-width="0.6"/><circle cx="170.3" cy="174.9" r="4.7" fill="#f68c51" stroke="#dc7040" stroke-width="0.6"/><circle cx="173.5" cy="172.6" r="4.7" fill="#f68c51" stroke="#dc7040" stroke-width="0.6"/><circle cx="176.7" cy="177.9" r="4.7" fill="#f68c51" stroke="#dc7040" stroke-width="0.6"/><circle cx="179.9" cy="181.6" r="4.7" fill="#f68c51" stroke="#dc7040" stroke-width="0.6"/><circle cx="183.2" cy="174.5" r="4.7" fill="#f68c51" stroke="#dc7040" stroke-width="0.6"/><circle cx="186.4" cy="187.6" r="4.7" fill="#f68c51" stroke="#dc7040" stroke-width="0.6"/><circle cx="189.6" cy="181.7" r="4.7" fill="#f68c51" stroke="#dc7040" stroke-width="0.6"/><circle cx="192.8" cy="192.4" r="4.7" fill="#f68c51" stroke="#dc7040" stroke-width="0.6"/><circle cx="196.0" cy="193.8" r="4.7" fill="#f68c51" stroke="#dc7040" stroke-width="0.6"/><circle cx="199.2" cy="194.2" r="4.7" fill="#f68c51" stroke="#dc7040" stroke-width="0.6"/><circle cx="202.4" cy="206.7" r="4.7" fill="#f68c51" stroke="#dc7040" stroke-width="0.6"/><circle cx="205.6" cy="187.7" r="4.7" fill="#f68c51" stroke="#dc7040" stroke-width="0.6"/><circle cx="208.9" cy="188.4" r="4.7" fill="#f68c51" stroke="#dc7040" stroke-width="0.6"/><circle cx="212.1" cy="216.0" r="4.7" fill="#f68c51" stroke="#dc7040" stroke-width="0.6"/><circle cx="215.3" cy="185.1" r="4.7" fill="#f68c51" stroke="#dc7040" stroke-width="0.6"/><circle cx="218.5" cy="200.3" r="4.7" fill="#f68c51" stroke="#dc7040" stroke-width="0.6"/><circle cx="221.7" cy="199.5" r="4.7" fill="#f68c51" stroke="#dc7040" stroke-width="0.6"/><circle cx="224.9" cy="201.6" r="4.7" fill="#f68c51" stroke="#dc7040" stroke-width="0.6"/><circle cx="228.1" cy="200.8" r="4.7" fill="#f68c51" stroke="#dc7040" stroke-width="0.6"/><circle cx="231.3" cy="204.1" r="4.7" fill="#f68c51" stroke="#dc7040" stroke-width="0.6"/><circle cx="234.6" cy="207.9" r="4.7" fill="#f68c51" stroke="#dc7040" stroke-width="0.6"/><circle cx="237.8" cy="207.4" r="4.7" fill="#f68c51" stroke="#dc7040" stroke-width="0.6"/><circle cx="241.0" cy="200.8" r="4.7" fill="#f68c51" stroke="#dc7040" stroke-width="0.6"/><circle cx="244.2" cy="212.1" r="4.7" fill="#f68c51" stroke="#dc7040" stroke-width="0.6"/><circle cx="247.4" cy="212.7" r="4.7" fill="#f68c51" stroke="#dc7040" stroke-width="0.6"/><circle cx="250.6" cy="204.8" r="4.7" fill="#f68c51" stroke="#dc7040" stroke-width="0.6"/><circle cx="253.8" cy="212.9" r="4.7" fill="#f68c51" stroke="#dc7040" stroke-width="0.6"/><circle cx="257.0" cy="237.9" r="4.7" fill="#f68c51" stroke="#dc7040" stroke-width="0.6"/><circle cx="260.2" cy="208.0" r="4.7" fill="#f68c51" stroke="#dc7040" stroke-width="0.6"/><circle cx="263.5" cy="208.4" r="4.7" fill="#f68c51" stroke="#dc7040" stroke-width="0.6"/><circle cx="266.7" cy="224.2" r="4.7" fill="#f68c51" stroke="#dc7040" stroke-width="0.6"/><circle cx="269.9" cy="206.4" r="4.7" fill="#f68c51" stroke="#dc7040" stroke-width="0.6"/><circle cx="273.1" cy="222.2" r="4.7" fill="#f68c51" stroke="#dc7040" stroke-width="0.6"/><circle cx="276.3" cy="219.5" r="4.7" fill="#f68c51" stroke="#dc7040" stroke-width="0.6"/><circle cx="279.5" cy="229.1" r="4.7" fill="#f68c51" stroke="#dc7040" stroke-width="0.6"/><circle cx="282.7" cy="224.6" r="4.7" fill="#f68c51" stroke="#dc7040" stroke-width="0.6"/><circle cx="285.9" cy="229.9" r="4.7" fill="#f68c51" stroke="#dc7040" stroke-width="0.6"/><circle cx="289.2" cy="218.2" r="4.7" fill="#f68c51" stroke="#dc7040" stroke-width="0.6"/><circle cx="292.4" cy="232.0" r="4.7" fill="#f68c51" stroke="#dc7040" stroke-width="0.6"/><circle cx="295.6" cy="210.3" r="4.7" fill="#f68c51" stroke="#dc7040" stroke-width="0.6"/><circle cx="298.8" cy="226.7" r="4.7" fill="#f68c51" stroke="#dc7040" stroke-width="0.6"/><circle cx="302.0" cy="247.7" r="4.7" fill="#f68c51" stroke="#dc7040" stroke-width="0.6"/><circle cx="305.2" cy="250.7" r="4.7" fill="#f68c51" stroke="#dc7040" stroke-width="0.6"/><circle cx="308.4" cy="226.0" r="4.7" fill="#f68c51" stroke="#dc7040" stroke-width="0.6"/><circle cx="311.6" cy="250.0" r="4.7" fill="#f68c51" stroke="#dc7040" stroke-width="0.6"/><circle cx="314.9" cy="256.0" r="4.7" fill="#f68c51" stroke="#dc7040" stroke-width="0.6"/><circle cx="318.1" cy="243.8" r="4.7" fill="#f68c51" stroke="#dc7040" stroke-width="0.6"/><circle cx="321.3" cy="238.2" r="4.7" fill="#f68c51" stroke="#dc7040" stroke-width="0.6"/><circle cx="324.5" cy="244.2" r="4.7" fill="#f68c51" stroke="#dc7040" stroke-width="0.6"/><circle cx="327.7" cy="256.6" r="4.7" fill="#f68c51" stroke="#dc7040" stroke-width="0.6"/><circle cx="330.9" cy="251.0" r="4.7" fill="#f68c51" stroke="#dc7040" stroke-width="0.6"/><circle cx="334.1" cy="252.9" r="4.7" fill="#f68c51" stroke="#dc7040" stroke-width="0.6"/><circle cx="337.4" cy="233.0" r="4.7" fill="#f68c51" stroke="#dc7040" stroke-width="0.6"/><circle cx="340.6" cy="236.9" r="4.7" fill="#f68c51" stroke="#dc7040" stroke-width="0.6"/><circle cx="343.8" cy="245.4" r="4.7" fill="#f68c51" stroke="#dc7040" stroke-width="0.6"/><circle cx="347.0" cy="233.0" r="4.7" fill="#f68c51" stroke="#dc7040" stroke-width="0.6"/><circle cx="350.2" cy="253.3" r="4.7" fill="#f68c51" stroke="#dc7040" stroke-width="0.6"/><circle cx="353.4" cy="246.0" r="4.7" fill="#f68c51" stroke="#dc7040" stroke-width="0.6"/><circle cx="356.6" cy="235.6" r="4.7" fill="#f68c51" stroke="#dc7040" stroke-width="0.6"/><circle cx="359.8" cy="260.0" r="4.7" fill="#f68c51" stroke="#dc7040" stroke-width="0.6"/><circle cx="363.1" cy="244.0" r="4.7" fill="#f68c51" stroke="#dc7040" stroke-width="0.6"/><circle cx="366.3" cy="236.2" r="4.7" fill="#f68c51" stroke="#dc7040" stroke-width="0.6"/><circle cx="369.5" cy="246.0" r="4.7" fill="#f68c51" stroke="#dc7040" stroke-width="0.6"/><circle cx="372.7" cy="251.9" r="4.7" fill="#f68c51" stroke="#dc7040" stroke-width="0.6"/><circle cx="375.9" cy="263.0" r="4.7" fill="#f68c51" stroke="#dc7040" stroke-width="0.6"/><circle cx="379.1" cy="264.7" r="4.7" fill="#f68c51" stroke="#dc7040" stroke-width="0.6"/><circle cx="382.3" cy="251.2" r="4.7" fill="#f68c51" stroke="#dc7040" stroke-width="0.6"/><circle cx="385.5" cy="268.0" r="4.7" fill="#f68c51" stroke="#dc7040" stroke-width="0.6"/><circle cx="388.8" cy="269.2" r="4.7" fill="#f68c51" stroke="#dc7040" stroke-width="0.6"/><circle cx="392.0" cy="267.8" r="4.7" fill="#f68c51" stroke="#dc7040" stroke-width="0.6"/><circle cx="395.2" cy="264.4" r="4.7" fill="#f68c51" stroke="#dc7040" stroke-width="0.6"/><circle cx="398.4" cy="244.0" r="4.7" fill="#f68c51" stroke="#dc7040" stroke-width="0.6"/><circle cx="401.6" cy="255.1" r="4.7" fill="#f68c51" stroke="#dc7040" stroke-width="0.6"/><circle cx="404.8" cy="278.3" r="4.7" fill="#f68c51" stroke="#dc7040" stroke-width="0.6"/><circle cx="408.0" cy="260.4" r="4.7" fill="#f68c51" stroke="#dc7040" stroke-width="0.6"/><circle cx="411.2" cy="242.0" r="4.7" fill="#f68c51" stroke="#dc7040" stroke-width="0.6"/><circle cx="414.5" cy="278.8" r="4.7" fill="#f68c51" stroke="#dc7040" stroke-width="0.6"/><circle cx="417.7" cy="284.1" r="4.7" fill="#f68c51" stroke="#dc7040" stroke-width="0.6"/><circle cx="420.9" cy="282.1" r="4.7" fill="#f68c51" stroke="#dc7040" stroke-width="0.6"/><circle cx="424.1" cy="273.5" r="4.7" fill="#f68c51" stroke="#dc7040" stroke-width="0.6"/><circle cx="427.3" cy="264.3" r="4.7" fill="#f68c51" stroke="#dc7040" stroke-width="0.6"/><circle cx="430.5" cy="293.8" r="4.7" fill="#f68c51" stroke="#dc7040" stroke-width="0.6"/><circle cx="433.7" cy="281.0" r="4.7" fill="#f68c51" stroke="#dc7040" stroke-width="0.6"/><circle cx="436.9" cy="262.3" r="4.7" fill="#f68c51" stroke="#dc7040" stroke-width="0.6"/><circle cx="440.1" cy="266.2" r="4.7" fill="#f68c51" stroke="#dc7040" stroke-width="0.6"/><circle cx="443.4" cy="274.8" r="4.7" fill="#f68c51" stroke="#dc7040" stroke-width="0.6"/><circle cx="446.6" cy="290.0" r="4.7" fill="#f68c51" stroke="#dc7040" stroke-width="0.6"/><circle cx="449.8" cy="266.2" r="4.7" fill="#f68c51" stroke="#dc7040" stroke-width="0.6"/><circle cx="453.0" cy="288.6" r="4.7" fill="#f68c51" stroke="#dc7040" stroke-width="0.6"/><circle cx="456.2" cy="290.1" r="4.7" fill="#f68c51" stroke="#dc7040" stroke-width="0.6"/><circle cx="459.4" cy="286.5" r="4.7" fill="#f68c51" stroke="#dc7040" stroke-width="0.6"/><circle cx="462.6" cy="295.2" r="4.7" fill="#f68c51" stroke="#dc7040" stroke-width="0.6"/><circle cx="465.9" cy="268.1" r="4.7" fill="#f68c51" stroke="#dc7040" stroke-width="0.6"/><circle cx="469.1" cy="295.0" r="4.7" fill="#f68c51" stroke="#dc7040" stroke-width="0.6"/><circle cx="472.3" cy="287.2" r="4.7" fill="#f68c51" stroke="#dc7040" stroke-width="0.6"/><circle cx="475.5" cy="308.2" r="4.7" fill="#f68c51" stroke="#dc7040" stroke-width="0.6"/><circle cx="478.7" cy="295.4" r="4.7" fill="#f68c51" stroke="#dc7040" stroke-width="0.6"/><circle cx="481.9" cy="299.3" r="4.7" fill="#f68c51" stroke="#dc7040" stroke-width="0.6"/><circle cx="485.1" cy="300.6" r="4.7" fill="#f68c51" stroke="#dc7040" stroke-width="0.6"/><circle cx="488.3" cy="289.8" r="4.7" fill="#f68c51" stroke="#dc7040" stroke-width="0.6"/><circle cx="491.5" cy="303.4" r="4.7" fill="#f68c51" stroke="#dc7040" stroke-width="0.6"/><circle cx="494.8" cy="301.0" r="4.7" fill="#f68c51" stroke="#dc7040" stroke-width="0.6"/><circle cx="498.0" cy="295.0" r="4.7" fill="#f68c51" stroke="#dc7040" stroke-width="0.6"/><circle cx="501.2" cy="306.3" r="4.7" fill="#f68c51" stroke="#dc7040" stroke-width="0.6"/><circle cx="504.4" cy="287.2" r="4.7" fill="#f68c51" stroke="#dc7040" stroke-width="0.6"/><polyline points="118.9,40.7 122.1,43.6 125.3,51.5 128.5,61.9 131.8,76.4 135.0,92.3 138.2,110.6 141.4,123.8 144.6,136.6 147.8,146.2 151.0,155.7 154.2,162.4 157.4,168.0 160.7,172.3 163.9,174.8 167.1,177.4 170.3,177.9 173.5,183.3 176.7,189.8 179.9,192.4 183.2,192.5 186.4,192.3 189.6,189.7 192.8,198.5 196.0,195.1 199.2,196.5 202.4,197.1 205.6,199.6 208.9,199.0 212.1,201.3 215.3,199.0 218.5,202.5 221.7,212.6 224.9,205.8 228.1,206.4 231.3,210.4 234.6,212.4 237.8,207.6 241.0,212.2 244.2,217.5 247.4,216.8 250.6,217.7 253.8,223.9 257.0,217.6 260.2,221.4 263.5,220.6 266.7,228.7 269.9,218.3 273.1,223.9 276.3,225.7 279.5,231.1 282.7,232.3 285.9,236.4 289.2,227.8 292.4,237.1 295.6,235.1 298.8,235.2 302.0,240.7 305.2,237.1 308.4,234.5 311.6,241.6 314.9,239.1 318.1,243.3 321.3,248.0 324.5,249.0 327.7,254.6 330.9,249.7 334.1,246.2 337.4,250.0 340.6,250.5 343.8,250.5 347.0,257.1 350.2,254.5 353.4,251.0 356.6,261.2 359.8,259.6 363.1,262.4 366.3,262.7 369.5,265.8 372.7,265.1 375.9,270.5 379.1,269.1 382.3,270.3 385.5,271.8 388.8,266.8 392.0,272.6 395.2,273.7 398.4,276.6 401.6,272.5 404.8,283.9 408.0,279.9 411.2,276.6 414.5,276.1 417.7,282.0 420.9,283.8 424.1,282.7 427.3,286.5 430.5,285.0 433.7,290.0 436.9,286.5 440.1,289.7 443.4,294.0 446.6,300.2 449.8,288.9 453.0,291.5 456.2,291.1 459.4,297.5 462.6,291.8 465.9,295.0 469.1,297.5 472.3,295.3 475.5,296.3 478.7,298.9 481.9,294.4 485.1,297.6 488.3,302.1 491.5,305.1 494.8,305.0 498.0,300.6 501.2,306.1 504.4,311.5" fill="none" stroke="#e27a74" stroke-width="1"/><circle cx="118.9" cy="40.7" r="4.7" fill="#f04a3e" stroke="#cc3b30" stroke-width="0.6"/><circle cx="122.1" cy="43.6" r="4.7" fill="#f04a3e" stroke="#cc3b30" stroke-width="0.6"/><circle cx="125.3" cy="51.5" r="4.7" fill="#f04a3e" stroke="#cc3b30" stroke-width="0.6"/><circle cx="128.5" cy="61.9" r="4.7" fill="#f04a3e" stroke="#cc3b30" stroke-width="0.6"/><circle cx="131.8" cy="76.4" r="4.7" fill="#f04a3e" stroke="#cc3b30" stroke-width="0.6"/><circle cx="135.0" cy="92.3" r="4.7" fill="#f04a3e" stroke="#cc3b30" stroke-width="0.6"/><circle cx="138.2" cy="110.6" r="4.7" fill="#f04a3e" stroke="#cc3b30" stroke-width="0.6"/><circle cx="141.4" cy="123.8" r="4.7" fill="#f04a3e" stroke="#cc3b30" stroke-width="0.6"/><circle cx="144.6" cy="136.6" r="4.7" fill="#f04a3e" stroke="#cc3b30" stroke-width="0.6"/><circle cx="147.8" cy="146.2" r="4.7" fill="#f04a3e" stroke="#cc3b30" stroke-width="0.6"/><circle cx="151.0" cy="155.7" r="4.7" fill="#f04a3e" stroke="#cc3b30" stroke-width="0.6"/><circle cx="154.2" cy="162.4" r="4.7" fill="#f04a3e" stroke="#cc3b30" stroke-width="0.6"/><circle cx="157.4" cy="168.0" r="4.7" fill="#f04a3e" stroke="#cc3b30" stroke-width="0.6"/><circle cx="160.7" cy="172.3" r="4.7" fill="#f04a3e" stroke="#cc3b30" stroke-width="0.6"/><circle cx="163.9" cy="174.8" r="4.7" fill="#f04a3e" stroke="#cc3b30" stroke-width="0.6"/><circle cx="167.1" cy="177.4" r="4.7" fill="#f04a3e" stroke="#cc3b30" stroke-width="0.6"/><circle cx="170.3" cy="177.9" r="4.7" fill="#f04a3e" stroke="#cc3b30" stroke-width="0.6"/><circle cx="173.5" cy="183.3" r="4.7" fill="#f04a3e" stroke="#cc3b30" stroke-width="0.6"/><circle cx="176.7" cy="189.8" r="4.7" fill="#f04a3e" stroke="#cc3b30" stroke-width="0.6"/><circle cx="179.9" cy="192.4" r="4.7" fill="#f04a3e" stroke="#cc3b30" stroke-width="0.6"/><circle cx="183.2" cy="192.5" r="4.7" fill="#f04a3e" stroke="#cc3b30" stroke-width="0.6"/><circle cx="186.4" cy="192.3" r="4.7" fill="#f04a3e" stroke="#cc3b30" stroke-width="0.6"/><circle cx="189.6" cy="189.7" r="4.7" fill="#f04a3e" stroke="#cc3b30" stroke-width="0.6"/><circle cx="192.8" cy="198.5" r="4.7" fill="#f04a3e" stroke="#cc3b30" stroke-width="0.6"/><circle cx="196.0" cy="195.1" r="4.7" fill="#f04a3e" stroke="#cc3b30" stroke-width="0.6"/><circle cx="199.2" cy="196.5" r="4.7" fill="#f04a3e" stroke="#cc3b30" stroke-width="0.6"/><circle cx="202.4" cy="197.1" r="4.7" fill="#f04a3e" stroke="#cc3b30" stroke-width="0.6"/><circle cx="205.6" cy="199.6" r="4.7" fill="#f04a3e" stroke="#cc3b30" stroke-width="0.6"/><circle cx="208.9" cy="199.0" r="4.7" fill="#f04a3e" stroke="#cc3b30" stroke-width="0.6"/><circle cx="212.1" cy="201.3" r="4.7" fill="#f04a3e" stroke="#cc3b30" stroke-width="0.6"/><circle cx="215.3" cy="199.0" r="4.7" fill="#f04a3e" stroke="#cc3b30" stroke-width="0.6"/><circle cx="218.5" cy="202.5" r="4.7" fill="#f04a3e" stroke="#cc3b30" stroke-width="0.6"/><circle cx="221.7" cy="212.6" r="4.7" fill="#f04a3e" stroke="#cc3b30" stroke-width="0.6"/><circle cx="224.9" cy="205.8" r="4.7" fill="#f04a3e" stroke="#cc3b30" stroke-width="0.6"/><circle cx="228.1" cy="206.4" r="4.7" fill="#f04a3e" stroke="#cc3b30" stroke-width="0.6"/><circle cx="231.3" cy="210.4" r="4.7" fill="#f04a3e" stroke="#cc3b30" stroke-width="0.6"/><circle cx="234.6" cy="212.4" r="4.7" fill="#f04a3e" stroke="#cc3b30" stroke-width="0.6"/><circle cx="237.8" cy="207.6" r="4.7" fill="#f04a3e" stroke="#cc3b30" stroke-width="0.6"/><circle cx="241.0" cy="212.2" r="4.7" fill="#f04a3e" stroke="#cc3b30" stroke-width="0.6"/><circle cx="244.2" cy="217.5" r="4.7" fill="#f04a3e" stroke="#cc3b30" stroke-width="0.6"/><circle cx="247.4" cy="216.8" r="4.7" fill="#f04a3e" stroke="#cc3b30" stroke-width="0.6"/><circle cx="250.6" cy="217.7" r="4.7" fill="#f04a3e" stroke="#cc3b30" stroke-width="0.6"/><circle cx="253.8" cy="223.9" r="4.7" fill="#f04a3e" stroke="#cc3b30" stroke-width="0.6"/><circle cx="257.0" cy="217.6" r="4.7" fill="#f04a3e" stroke="#cc3b30" stroke-width="0.6"/><circle cx="260.2" cy="221.4" r="4.7" fill="#f04a3e" stroke="#cc3b30" stroke-width="0.6"/><circle cx="263.5" cy="220.6" r="4.7" fill="#f04a3e" stroke="#cc3b30" stroke-width="0.6"/><circle cx="266.7" cy="228.7" r="4.7" fill="#f04a3e" stroke="#cc3b30" stroke-width="0.6"/><circle cx="269.9" cy="218.3" r="4.7" fill="#f04a3e" stroke="#cc3b30" stroke-width="0.6"/><circle cx="273.1" cy="223.9" r="4.7" fill="#f04a3e" stroke="#cc3b30" stroke-width="0.6"/><circle cx="276.3" cy="225.7" r="4.7" fill="#f04a3e" stroke="#cc3b30" stroke-width="0.6"/><circle cx="279.5" cy="231.1" r="4.7" fill="#f04a3e" stroke="#cc3b30" stroke-width="0.6"/><circle cx="282.7" cy="232.3" r="4.7" fill="#f04a3e" stroke="#cc3b30" stroke-width="0.6"/><circle cx="285.9" cy="236.4" r="4.7" fill="#f04a3e" stroke="#cc3b30" stroke-width="0.6"/><circle cx="289.2" cy="227.8" r="4.7" fill="#f04a3e" stroke="#cc3b30" stroke-width="0.6"/><circle cx="292.4" cy="237.1" r="4.7" fill="#f04a3e" stroke="#cc3b30" stroke-width="0.6"/><circle cx="295.6" cy="235.1" r="4.7" fill="#f04a3e" stroke="#cc3b30" stroke-width="0.6"/><circle cx="298.8" cy="235.2" r="4.7" fill="#f04a3e" stroke="#cc3b30" stroke-width="0.6"/><circle cx="302.0" cy="240.7" r="4.7" fill="#f04a3e" stroke="#cc3b30" stroke-width="0.6"/><circle cx="305.2" cy="237.1" r="4.7" fill="#f04a3e" stroke="#cc3b30" stroke-width="0.6"/><circle cx="308.4" cy="234.5" r="4.7" fill="#f04a3e" stroke="#cc3b30" stroke-width="0.6"/><circle cx="311.6" cy="241.6" r="4.7" fill="#f04a3e" stroke="#cc3b30" stroke-width="0.6"/><circle cx="314.9" cy="239.1" r="4.7" fill="#f04a3e" stroke="#cc3b30" stroke-width="0.6"/><circle cx="318.1" cy="243.3" r="4.7" fill="#f04a3e" stroke="#cc3b30" stroke-width="0.6"/><circle cx="321.3" cy="248.0" r="4.7" fill="#f04a3e" stroke="#cc3b30" stroke-width="0.6"/><circle cx="324.5" cy="249.0" r="4.7" fill="#f04a3e" stroke="#cc3b30" stroke-width="0.6"/><circle cx="327.7" cy="254.6" r="4.7" fill="#f04a3e" stroke="#cc3b30" stroke-width="0.6"/><circle cx="330.9" cy="249.7" r="4.7" fill="#f04a3e" stroke="#cc3b30" stroke-width="0.6"/><circle cx="334.1" cy="246.2" r="4.7" fill="#f04a3e" stroke="#cc3b30" stroke-width="0.6"/><circle cx="337.4" cy="250.0" r="4.7" fill="#f04a3e" stroke="#cc3b30" stroke-width="0.6"/><circle cx="340.6" cy="250.5" r="4.7" fill="#f04a3e" stroke="#cc3b30" stroke-width="0.6"/><circle cx="343.8" cy="250.5" r="4.7" fill="#f04a3e" stroke="#cc3b30" stroke-width="0.6"/><circle cx="347.0" cy="257.1" r="4.7" fill="#f04a3e" stroke="#cc3b30" stroke-width="0.6"/><circle cx="350.2" cy="254.5" r="4.7" fill="#f04a3e" stroke="#cc3b30" stroke-width="0.6"/><circle cx="353.4" cy="251.0" r="4.7" fill="#f04a3e" stroke="#cc3b30" stroke-width="0.6"/><circle cx="356.6" cy="261.2" r="4.7" fill="#f04a3e" stroke="#cc3b30" stroke-width="0.6"/><circle cx="359.8" cy="259.6" r="4.7" fill="#f04a3e" stroke="#cc3b30" stroke-width="0.6"/><circle cx="363.1" cy="262.4" r="4.7" fill="#f04a3e" stroke="#cc3b30" stroke-width="0.6"/><circle cx="366.3" cy="262.7" r="4.7" fill="#f04a3e" stroke="#cc3b30" stroke-width="0.6"/><circle cx="369.5" cy="265.8" r="4.7" fill="#f04a3e" stroke="#cc3b30" stroke-width="0.6"/><circle cx="372.7" cy="265.1" r="4.7" fill="#f04a3e" stroke="#cc3b30" stroke-width="0.6"/><circle cx="375.9" cy="270.5" r="4.7" fill="#f04a3e" stroke="#cc3b30" stroke-width="0.6"/><circle cx="379.1" cy="269.1" r="4.7" fill="#f04a3e" stroke="#cc3b30" stroke-width="0.6"/><circle cx="382.3" cy="270.3" r="4.7" fill="#f04a3e" stroke="#cc3b30" stroke-width="0.6"/><circle cx="385.5" cy="271.8" r="4.7" fill="#f04a3e" stroke="#cc3b30" stroke-width="0.6"/><circle cx="388.8" cy="266.8" r="4.7" fill="#f04a3e" stroke="#cc3b30" stroke-width="0.6"/><circle cx="392.0" cy="272.6" r="4.7" fill="#f04a3e" stroke="#cc3b30" stroke-width="0.6"/><circle cx="395.2" cy="273.7" r="4.7" fill="#f04a3e" stroke="#cc3b30" stroke-width="0.6"/><circle cx="398.4" cy="276.6" r="4.7" fill="#f04a3e" stroke="#cc3b30" stroke-width="0.6"/><circle cx="401.6" cy="272.5" r="4.7" fill="#f04a3e" stroke="#cc3b30" stroke-width="0.6"/><circle cx="404.8" cy="283.9" r="4.7" fill="#f04a3e" stroke="#cc3b30" stroke-width="0.6"/><circle cx="408.0" cy="279.9" r="4.7" fill="#f04a3e" stroke="#cc3b30" stroke-width="0.6"/><circle cx="411.2" cy="276.6" r="4.7" fill="#f04a3e" stroke="#cc3b30" stroke-width="0.6"/><circle cx="414.5" cy="276.1" r="4.7" fill="#f04a3e" stroke="#cc3b30" stroke-width="0.6"/><circle cx="417.7" cy="282.0" r="4.7" fill="#f04a3e" stroke="#cc3b30" stroke-width="0.6"/><circle cx="420.9" cy="283.8" r="4.7" fill="#f04a3e" stroke="#cc3b30" stroke-width="0.6"/><circle cx="424.1" cy="282.7" r="4.7" fill="#f04a3e" stroke="#cc3b30" stroke-width="0.6"/><circle cx="427.3" cy="286.5" r="4.7" fill="#f04a3e" stroke="#cc3b30" stroke-width="0.6"/><circle cx="430.5" cy="285.0" r="4.7" fill="#f04a3e" stroke="#cc3b30" stroke-width="0.6"/><circle cx="433.7" cy="290.0" r="4.7" fill="#f04a3e" stroke="#cc3b30" stroke-width="0.6"/><circle cx="436.9" cy="286.5" r="4.7" fill="#f04a3e" stroke="#cc3b30" stroke-width="0.6"/><circle cx="440.1" cy="289.7" r="4.7" fill="#f04a3e" stroke="#cc3b30" stroke-width="0.6"/><circle cx="443.4" cy="294.0" r="4.7" fill="#f04a3e" stroke="#cc3b30" stroke-width="0.6"/><circle cx="446.6" cy="300.2" r="4.7" fill="#f04a3e" stroke="#cc3b30" stroke-width="0.6"/><circle cx="449.8" cy="288.9" r="4.7" fill="#f04a3e" stroke="#cc3b30" stroke-width="0.6"/><circle cx="453.0" cy="291.5" r="4.7" fill="#f04a3e" stroke="#cc3b30" stroke-width="0.6"/><circle cx="456.2" cy="291.1" r="4.7" fill="#f04a3e" stroke="#cc3b30" stroke-width="0.6"/><circle cx="459.4" cy="297.5" r="4.7" fill="#f04a3e" stroke="#cc3b30" stroke-width="0.6"/><circle cx="462.6" cy="291.8" r="4.7" fill="#f04a3e" stroke="#cc3b30" stroke-width="0.6"/><circle cx="465.9" cy="295.0" r="4.7" fill="#f04a3e" stroke="#cc3b30" stroke-width="0.6"/><circle cx="469.1" cy="297.5" r="4.7" fill="#f04a3e" stroke="#cc3b30" stroke-width="0.6"/><circle cx="472.3" cy="295.3" r="4.7" fill="#f04a3e" stroke="#cc3b30" stroke-width="0.6"/><circle cx="475.5" cy="296.3" r="4.7" fill="#f04a3e" stroke="#cc3b30" stroke-width="0.6"/><circle cx="478.7" cy="298.9" r="4.7" fill="#f04a3e" stroke="#cc3b30" stroke-width="0.6"/><circle cx="481.9" cy="294.4" r="4.7" fill="#f04a3e" stroke="#cc3b30" stroke-width="0.6"/><circle cx="485.1" cy="297.6" r="4.7" fill="#f04a3e" stroke="#cc3b30" stroke-width="0.6"/><circle cx="488.3" cy="302.1" r="4.7" fill="#f04a3e" stroke="#cc3b30" stroke-width="0.6"/><circle cx="491.5" cy="305.1" r="4.7" fill="#f04a3e" stroke="#cc3b30" stroke-width="0.6"/><circle cx="494.8" cy="305.0" r="4.7" fill="#f04a3e" stroke="#cc3b30" stroke-width="0.6"/><circle cx="498.0" cy="300.6" r="4.7" fill="#f04a3e" stroke="#cc3b30" stroke-width="0.6"/><circle cx="501.2" cy="306.1" r="4.7" fill="#f04a3e" stroke="#cc3b30" stroke-width="0.6"/><circle cx="504.4" cy="311.5" r="4.7" fill="#f04a3e" stroke="#cc3b30" stroke-width="0.6"/>
<rect x="80.5" y="11.4" width="462.1" height="372.0" fill="none" stroke="#000" stroke-width="1.3"/><path d="M80.3 383.4v4 M118.9 383.4v7 M157.5 383.4v4 M196.0 383.4v7 M234.6 383.4v4 M273.1 383.4v7 M311.6 383.4v4 M350.2 383.4v7 M388.8 383.4v4 M427.3 383.4v7 M465.9 383.4v4 M504.4 383.4v7 M543.0 383.4v4 M80.5 383.2h-4 M80.5 374.0h-4 M80.5 365.8h-4 M80.5 358.5h-7 M80.5 310.5h-4 M80.5 282.4h-4 M80.5 262.5h-4 M80.5 247.0h-4 M80.5 234.4h-4 M80.5 223.7h-4 M80.5 214.5h-4 M80.5 206.3h-4 M80.5 199.0h-7 M80.5 151.0h-4 M80.5 122.9h-4 M80.5 103.0h-4 M80.5 87.5h-4 M80.5 74.9h-4 M80.5 64.2h-4 M80.5 55.0h-4 M80.5 46.8h-4 M80.5 39.5h-7" stroke="#000" stroke-width="1.3" fill="none"/>
<text x="118.9" y="410.5" text-anchor="middle">0.0</text><text x="196.0" y="410.5" text-anchor="middle">0.1</text><text x="273.1" y="410.5" text-anchor="middle">0.2</text><text x="350.2" y="410.5" text-anchor="middle">0.3</text><text x="427.3" y="410.5" text-anchor="middle">0.4</text><text x="504.4" y="410.5" text-anchor="middle">0.5</text><text x="67.8" y="46.1" text-anchor="end">1</text><text x="67.8" y="205.6" text-anchor="end">0.1</text><text x="67.8" y="365.1" text-anchor="end">0.01</text>
<line x1="383" y1="41.4" x2="425.5" y2="41.4" stroke="#3b67a6" stroke-width="1.1"/><path d="M404.2 35.8L409.9 41.4L404.2 47.0L398.6 41.4Z" fill="#2270bf" stroke="#2a5c9c" stroke-width="0.6"/><text x="436" y="49.0" class="lg"><tspan font-style="italic">τ</tspan><tspan dy="5.6" font-size="14.5">1</tspan><tspan dy="-5.6">=63.9 ps</tspan></text><line x1="383" y1="72.7" x2="425.5" y2="72.7" stroke="#7fb0d6" stroke-width="1.1"/><path d="M404.2 67.1L409.9 72.7L404.2 78.3L398.6 72.7Z" fill="#5ea8dc" stroke="#5b8fbf" stroke-width="0.6"/><text x="436" y="80.3" class="lg"><tspan font-style="italic">τ</tspan><tspan dy="5.6" font-size="14.5">2</tspan><tspan dy="-5.6">=54.9 ps</tspan></text><line x1="383" y1="103.2" x2="425.5" y2="103.2" stroke="#bcdbe3" stroke-width="1.1"/><path d="M404.2 97.6L409.9 103.2L404.2 108.8L398.6 103.2Z" fill="#c9e5ec" stroke="#8fb7c4" stroke-width="0.6"/><text x="436" y="110.8" class="lg"><tspan font-style="italic">τ</tspan><tspan dy="5.6" font-size="14.5">3</tspan><tspan dy="-5.6">=52.2 ps</tspan></text><line x1="101" y1="288" x2="144" y2="288" stroke="#fbdfa6" stroke-width="1.1"/><circle cx="122.5" cy="288" r="4.8" fill="#fcd789" stroke="#e6b565" stroke-width="0.6"/><text x="154.2" y="295.6" class="lg"><tspan font-style="italic">τ</tspan><tspan dy="5.6" font-size="14.5">4</tspan><tspan dy="-5.6">=26.9 ps</tspan></text><line x1="101" y1="318.9" x2="144" y2="318.9" stroke="#f5a17b" stroke-width="1.1"/><circle cx="122.5" cy="318.9" r="4.8" fill="#f68c51" stroke="#dc7040" stroke-width="0.6"/><text x="154.2" y="326.5" class="lg"><tspan font-style="italic">τ</tspan><tspan dy="5.6" font-size="14.5">5</tspan><tspan dy="-5.6">=25.8 ps</tspan></text><line x1="101" y1="349.1" x2="144" y2="349.1" stroke="#e27a74" stroke-width="1.1"/><circle cx="122.5" cy="349.1" r="4.8" fill="#f04a3e" stroke="#cc3b30" stroke-width="0.6"/><text x="154.2" y="356.7" class="lg"><tspan font-style="italic">τ</tspan><tspan dy="5.6" font-size="14.5">6</tspan><tspan dy="-5.6">=23.5 ps</tspan></text>
<text x="223.5" y="98.8" class="an">MoS<tspan dy="6" font-size="14.5">2</tspan><tspan dy="-6"> on </tspan><tspan font-style="italic">h</tspan><tspan dx="0.8">BN</tspan></text><text x="273.6" y="307.5" class="an">MoS<tspan dy="6" font-size="14.5">2</tspan><tspan dy="-6"> on SiO</tspan><tspan dy="6" font-size="14.5">2</tspan></text><path d="M214.1 161.8 Q240.8 151.8 255.6 116.8" fill="none" stroke="#111" stroke-width="1.15"/><path d="M257.3 106.6 L260.3 116.6 L256.1 115.4 L251.8 115.9 Z" fill="#000"/><path d="M393.4 237 Q348.2 242.5 337.8 277.3" fill="none" stroke="#111" stroke-width="1.15"/><path d="M335.1 286.8 L332.4 276.8 L336.7 277.8 L340.8 278.1 Z" fill="#000"/>
<text x="311" y="446.6" text-anchor="middle" class="ti">Time (ns)</text><text transform="translate(24.5,198.5) rotate(-90)" text-anchor="middle" class="yt">Intensity (Normalized)</text>
</svg></body></html>
